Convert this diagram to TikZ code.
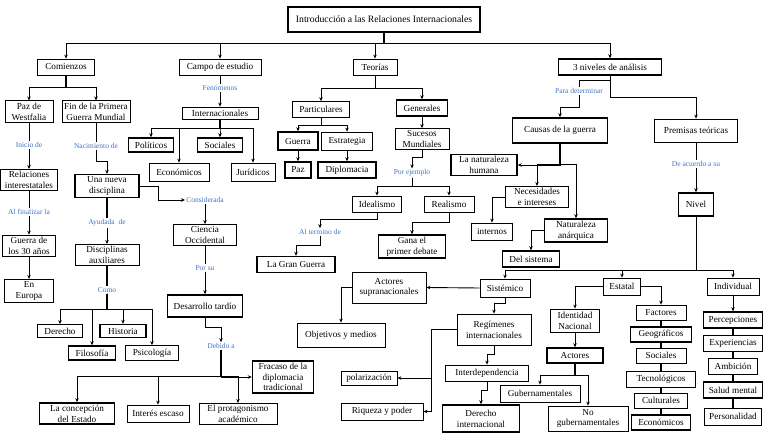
\documentclass[tikz,border=0pt]{standalone}
\usepackage{fontspec}
\setmainfont{Liberation Serif}
\usetikzlibrary{arrows.meta}
\definecolor{lblblue}{RGB}{68,114,196}
\newcommand\bxfont{\fontsize{9.2}{10.8}\selectfont}
\newcommand\lbfont{\fontsize{7.5}{9}\selectfont}
\tikzset{
  box/.style={draw,fill=white,line width=0.8pt,align=center,inner sep=2pt,
    minimum height=16pt,minimum width=#1,font=\bxfont},
  box/.default=10pt,
  tbox/.style={box=#1,line width=1.4pt},
  tbox/.default=10pt,
  lbl/.style={text=lblblue,font=\lbfont,inner sep=1pt},
  conn/.style={-{Stealth[length=4pt,width=3.5pt]},line width=0.9pt},
  link/.style={line width=0.9pt},
  chain/.style={line width=1.6pt},
}
\begin{document}
\begin{tikzpicture}[x=1pt,y=-1pt]
\useasboundingbox (0,0) rectangle (768,433);

% top level
\node[tbox=192,minimum height=25pt,font=\fontsize{9.7}{11}\selectfont] (title) at (384,19.5) {Introducción a las Relaciones Internacionales};
\node[box=57] (comienzos) at (66,67) {Comienzos};
\node[box=82] (campo) at (220,67) {Campo de estudio};
\node[box=44] (teorias) at (375,67) {Teorías};
\node[tbox=103] (niveles) at (610,67) {3 niveles de análisis};
\draw[chain] (title.south) -- ++(0,11);
\foreach \n in {comienzos,campo,teorias,niveles}
  \draw[conn] (title.south) -- ++(0,11) -| (\n.north);

% comienzos
\node[box=48] (paz) at (29,111.5) {Paz de\\Westfalia};
\node[box=68] (fin) at (96,111.5) {Fin de la Primera\\Guerra Mundial};
\draw[chain] (comienzos.south) -- ++(0,12);
\draw[conn] (comienzos.south) -- ++(0,12) -| (paz.north);
\draw[conn] (comienzos.south) -- ++(0,12) -| (fin.north);
\node[lbl] (inicio) at (29,145) {Inicio de};
\node[box=57] (relaciones) at (29,180) {Relaciones\\interestatales};
\node[lbl] (alfinalizar) at (29,212) {Al finalizar la};
\node[tbox=53] (guerra30) at (29,246) {Guerra de\\los 30 años};
\node[tbox=49] (europa) at (29,291) {En\\Europa};
\draw[link] (paz) -- (inicio);
\draw[conn] (inicio) -- (relaciones);
\draw[link] (relaciones) -- (alfinalizar);
\draw[conn] (alfinalizar) -- (guerra30);
\draw[conn] (guerra30) -- (europa);

\node[lbl] (nacimiento) at (96,146) {Nacimiento de};
\node[tbox=64] (nueva) at (107,186) {Una nueva\\disciplina};
\draw[link] (fin) -- (nacimiento);
\draw[conn] (nacimiento.south) -- ++(0,12) -| (nueva.north);
\node[lbl] (considerada) at (205,200) {Considerada};
\draw[conn] (nueva.east) -- ++(19,0) |- (considerada.west);
\node[lbl] (ayudada) at (107,223) {Ayudada\ \ de};
\node[box=64] (disciplinas) at (107,255) {Disciplinas\\auxiliares};
\draw[chain] (nueva) -- (ayudada);
\draw[conn] (ayudada) -- (disciplinas);
\node[lbl] (como) at (107,290) {Como};
\draw[chain] (disciplinas) -- (como);
\node[box=45,minimum height=13pt] (derecho) at (60,331) {Derecho};
\node[tbox=46,minimum height=13pt] (historia) at (123,331) {Historia};
\node[tbox=47,minimum height=14pt] (filosofia) at (92,353) {Filosofía};
\node[box=53,minimum height=15pt] (psicologia) at (152,353) {Psicología};
\draw[chain] (como.south) -- ++(0,16);
\foreach \n in {derecho,filosofia,historia,psicologia}
  \draw[conn] (como.south) -- ++(0,16) -| (\n.north);

\node[box=63] (ciencia) at (205,235) {Ciencia\\Occidental};
\draw[conn] (considerada) -- (ciencia);
\node[lbl] (porsu) at (205,268) {Por su};
\node[tbox=75,minimum height=22pt] (desarrollo) at (205,306) {Desarrollo tardío};
\draw[link] (ciencia) -- (porsu);
\draw[conn] (porsu) -- (desarrollo);
\node[lbl] (debido) at (221,346) {Debido a};
\draw[conn] (desarrollo.south) -- ++(0,10) -| (debido.north);
\node[tbox=75] (concepcion) at (77,413.5) {La concepción\\del Estado};
\node[box=62,minimum height=17pt] (interes) at (158,413.5) {Interés escaso};
\node[box=78] (protagonismo) at (238,414) {El protagonismo\\académico};
\node[tbox=61] (fracaso) at (283,377) {Fracaso de la\\diplomacia\\tradicional};
\draw[chain] (debido.south) -- ++(0,27);
\foreach \n in {concepcion,interes,protagonismo}
  \draw[conn] (debido.south) -- ++(0,27) -| (\n.north);
\draw[conn] (debido.south) |- (fracaso.west);

% campo de estudio
\node[lbl] (fenomenos) at (220,88) {Fenómenos};
\node[box=76,minimum height=12pt] (internacionales) at (220,113) {Internacionales};
\draw[link] (campo) -- (fenomenos);
\draw[conn] (fenomenos) -- (internacionales);
\node[tbox=45,minimum height=14pt] (politicos) at (151,145) {Políticos};
\node[tbox=45,minimum height=14pt] (sociales) at (220,145) {Sociales};
\node[box=60,minimum height=18pt] (economicos) at (179,172) {Económicos};
\node[box=44,minimum height=18pt] (juridicos) at (253,172) {Jurídicos};
\draw[chain] (internacionales.south) -- ++(0,9);
\foreach \n in {politicos,sociales,economicos,juridicos}
  \draw[conn] (internacionales.south) -- ++(0,9) -| (\n.north);

% teorias
\node[box=57] (particulares) at (321,109.5) {Particulares};
\node[tbox=51] (generales) at (422,108) {Generales};
\draw[conn] (teorias.south) -- ++(0,13) -| (particulares.north);
\draw[conn] (teorias.south) -- ++(0,13) -| (generales.north);
\node[tbox=40,minimum height=18pt] (guerra) at (298,141) {Guerra};
\node[box=51,minimum height=18pt] (estrategia) at (347,141) {Estrategia};
\draw[conn] (particulares.south) -- ++(0,8) -| (guerra.north);
\draw[conn] (particulares.south) -- ++(0,8) -| (estrategia.north);
\node[tbox=26] (pazb) at (298,170) {Paz};
\node[tbox=58] (diplomacia) at (347,170) {Diplomacia};
\draw[conn] (guerra) -- (pazb);
\draw[conn] (estrategia) -- (diplomacia);
\node[box=54] (sucesos) at (422,139) {Sucesos\\Mundiales};
\draw[conn] (generales) -- (sucesos);
\node[lbl] (porejemplo) at (412,173) {Por ejemplo};
\draw[conn] (sucesos.south) -- ++(0,8) -| (porejemplo.north);
\node[box=49] (idealismo) at (377,204) {Idealismo};
\node[box=50] (realismo) at (449,204) {Realismo};
\draw[conn] (porejemplo.south) -- ++(0,9) -| (idealismo.north);
\draw[conn] (porejemplo.south) -- ++(0,9) -| (realismo.north);
\node[lbl] (altermino) at (320,232) {Al termino de};
\draw[conn] (idealismo.south) -- ++(0,7) -| (altermino.north);
\node[tbox=78] (granguerra) at (296,264.5) {La Gran Guerra};
\draw[conn] (altermino.south) -- ++(0,10) -| (granguerra.north);
\node[tbox=67] (gana) at (412,246.5) {Gana el\\primer debate};
\draw[conn] (realismo.south) -- ++(0,10) -| (gana.north);

% 3 niveles de analisis
\node[lbl] (paradet) at (579,91) {Para determinar};
\draw[link] (niveles.south) -- ++(0,5) -| (paradet.north);
\node[tbox=95,minimum height=25pt] (causas) at (560,130.5) {Causas de la guerra};
\node[box=83,minimum height=23pt] (premisas) at (696,130.5) {Premisas teóricas};
\draw[conn] (paradet.south) -- ++(0,13) -| (causas.north);
\draw[conn] (niveles.south) -- ++(0,22) -| (premisas.north);
\node[tbox=66] (humana) at (484,165) {La naturaleza\\humana};
\node[box=63] (necesidades) at (537,197) {Necesidades\\e intereses};
\node[tbox=63] (anarquica) at (576,230.5) {Naturaleza\\anárquica};
\draw[chain] (causas.south) -- ++(0,21);
\draw[conn] (causas.south) |- (humana.east);
\draw[conn] (causas.south) -- ++(0,21) -| (necesidades.north);
\draw[conn] (causas.south) -- ++(0,21) -| (anarquica.north);
\node[box=41,minimum height=17pt] (internos) at (492,231.5) {internos};
\draw[conn] (necesidades.west) -| (internos.north);
\node[tbox=57] (delsistema) at (531,259) {Del sistema};
\draw[conn] (anarquica.west) -| (delsistema.north);

\node[lbl] (deacuerdo) at (696,164) {De acuerdo a su};
\node[tbox=35,minimum height=23pt] (nivel) at (696,204.5) {Nivel};
\draw[link] (premisas) -- (deacuerdo);
\draw[conn] (deacuerdo) -- (nivel);

\node[box=50,minimum height=18pt] (sistemico) at (505,288) {Sistémico};
\node[box=37,minimum height=17pt] (estatal) at (622,286.5) {Estatal};
\node[box=52,minimum height=17pt] (individual) at (733,286.5) {Individual};
\foreach \n in {sistemico,estatal,individual}
  \draw[conn] (nivel.south) -- ++(0,54) -| (\n.north);

% sistemico
\node[box=74,minimum height=31pt] (supra) at (389,287.5) {Actores\\supranacionales};
\draw[conn] (sistemico.west) -- (supra.east);
\node[box=88,minimum height=24pt] (objetivos) at (341,335) {Objetivos y medios};
\draw[conn] (supra.west) -| (objetivos.north);
\node[box=74,minimum height=31pt] (regimenes) at (494,329.5) {Regímenes\\internacionales};
\draw[conn] (sistemico.south) -- ++(0,6) -| (regimenes.north);
\node[box=56,minimum height=14pt] (polarizacion) at (369,378) {polarización};
\node[box=82,minimum height=17pt] (riqueza) at (382,411.5) {Riqueza y poder};
\draw[conn] (regimenes.west) -- ++(-25,0) |- (polarizacion.east);
\draw[conn] (regimenes.west) -- ++(-25,0) |- (riqueza.east);
\node[box=83] (interdep) at (487,373) {Interdependencia};
\draw[conn] (regimenes.south) -- ++(0,9) -| (interdep.north);
\node[tbox=77,minimum height=27pt] (derechoint) at (481,418.5) {Derecho\\internacional};
\draw[conn] (interdep.south) -- ++(0,9) -| (derechoint.north);

% estatal
\node[box=49,minimum height=23pt] (identidad) at (575,320.5) {Identidad\\Nacional};
\node[box=50,minimum height=15pt] (factores) at (661,312.5) {Factores};
\draw[conn] (estatal.west) -| (identidad.north);
\draw[conn] (estatal.east) -| (factores.north);
\node[tbox=56,minimum height=15pt] (actores) at (575,355.5) {Actores};
\draw[conn] (identidad) -- (actores);
\node[box=80,minimum height=17pt] (gub) at (540,393.5) {Gubernamentales};
\node[box=80,minimum height=25pt] (nogub) at (588,418.5) {No\\gubernamentales};
\draw[chain] (actores.south) -- ++(0,12);
\draw[conn] (actores.south) -- ++(0,12) -| (gub.north);
\draw[conn] (actores.south) -- ++(0,12) -| (nogub.north);
\node[tbox=61,minimum height=15pt] (geograficos) at (661,334.5) {Geográficos};
\node[box=50,minimum height=15pt] (socialesb) at (661,355.5) {Sociales};
\node[box=69,minimum height=16pt] (tecnologicos) at (661,379) {Tecnológicos};
\node[box=53,minimum height=15pt] (culturales) at (661,400.5) {Culturales};
\node[tbox=59,minimum height=15pt] (economicosb) at (661,422.5) {Económicos};
\draw[chain] (factores) -- (geograficos);
\draw[chain] (geograficos) -- (socialesb);
\draw[chain] (socialesb) -- (tecnologicos);
\draw[chain] (tecnologicos) -- (culturales);
\draw[chain] (culturales) -- (economicosb);

% individual
\node[tbox=59] (percepciones) at (733,320) {Percepciones};
\node[box=59] (experiencias) at (733,343) {Experiencias};
\node[box=49] (ambicion) at (733,366) {Ambición};
\node[tbox=59] (saludmental) at (733,390) {Salud mental};
\node[box=57,minimum height=17pt] (personalidad) at (733,416.5) {Personalidad};
\draw[conn] (individual) -- (percepciones);
\draw[chain] (percepciones) -- (experiencias);
\draw[chain] (experiencias) -- (ambicion);
\draw[chain] (ambicion) -- (saludmental);
\draw[chain] (saludmental) -- (personalidad);
\end{tikzpicture}
\end{document}
